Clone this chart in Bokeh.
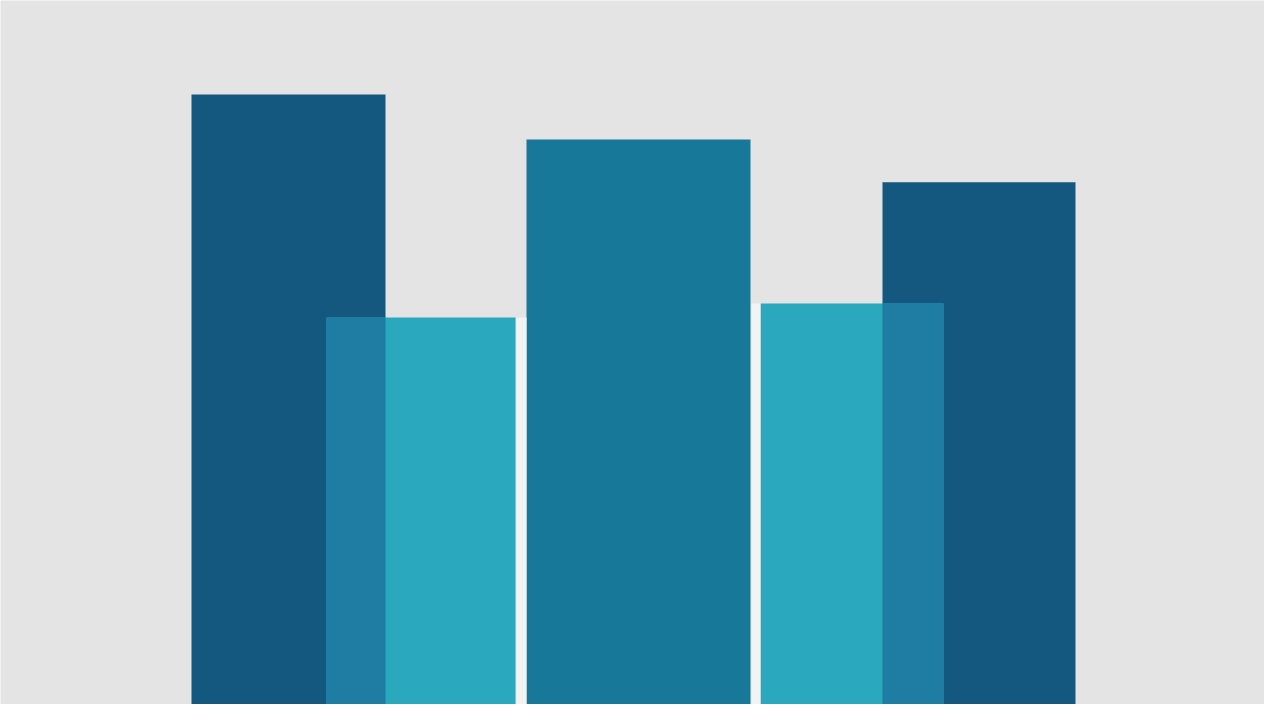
from bokeh.plotting import figure
from bokeh.embed import file_html
from bokeh.resources import INLINE
from bokeh.models import ColumnDataSource

# Data (values in arbitrary units, 0 at chart bottom)
dark_values = [100.0, 85.8]     # tall dark-blue bars (left, right)
teal_values = [63.9, 66.2]      # light teal bars (left-centre, right-centre)
mid_values = [92.7]             # central teal-blue bar

# Layout (positions in x units, 1 unit = 10 px)
dark_x = [29.6, 98.65]
dark_w = [19.4, 19.3]
teal_x = [42.85, 85.95]
teal_w = [18.9, 18.3]
mid_x = [64.6]
mid_w = [22.4]

BG = "#e4e4e4"
DARK = "#14577f"
MID = "#17789a"
TEAL = "#29a8be"
OVER = "#1f7da3"
GAP = "#f2f4f4"

UNIT_PX = 6.18  # px per value unit

p = figure(width=1264, height=704, output_backend="svg", toolbar_location=None,
           x_range=(0.8, 127.2), y_range=(8 / UNIT_PX, 712 / UNIT_PX),
           min_border=0)
p.axis.visible = False
p.grid.visible = False
p.outline_line_color = None
p.background_fill_color = BG
p.border_fill_color = BG

p.vbar(x=dark_x, width=dark_w, top=dark_values, bottom=0, fill_color=DARK, line_color=None)
p.vbar(x=mid_x, width=mid_w, top=mid_values, bottom=0, fill_color=MID, line_color=None)
p.vbar(x=teal_x, width=teal_w, top=teal_values, bottom=0, fill_color=TEAL, line_color=None)

# overlaps between teal bars and dark bars
ol, orr, ot = [], [], []
for tx, tw, tv in zip(teal_x, teal_w, teal_values):
    for dx, dw, dv in zip(dark_x, dark_w, dark_values):
        l = max(tx - tw / 2, dx - dw / 2)
        r = min(tx + tw / 2, dx + dw / 2)
        if r > l:
            ol.append(l); orr.append(r); ot.append(min(tv, dv))
p.quad(left=ol, right=orr, top=ot, bottom=[0] * len(ol), fill_color=OVER, line_color=None)

# light gaps between teal bars and middle bar
gl, gr, gt = [], [], []
mx, mw = mid_x[0], mid_w[0]
for tx, tw, tv in zip(teal_x, teal_w, teal_values):
    if tx < mx:
        gl.append(tx + tw / 2 + 0.1); gr.append(mx - mw / 2)
    else:
        gl.append(mx + mw / 2 + 0.1); gr.append(tx - tw / 2)
    gt.append(tv)
p.quad(left=gl, right=gr, top=gt, bottom=[0] * len(gl), fill_color=GAP, line_color=None)

open("out.html", "w").write(file_html(p, INLINE))
